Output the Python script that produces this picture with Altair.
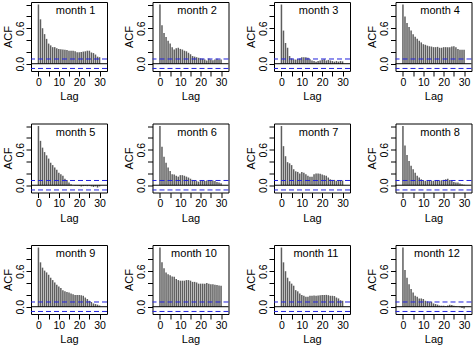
import altair as alt
import pandas as pd

lags = list(range(31))

m1 = [1.0, 0.75, 0.60, 0.50, 0.42, 0.34, 0.31, 0.28, 0.28, 0.26, 0.25, 0.245, 0.24, 0.235, 0.23, 0.22,
      0.22, 0.22, 0.21, 0.195, 0.195, 0.20, 0.205, 0.21, 0.22, 0.22, 0.19, 0.18, 0.155, 0.12, 0.11]
m2 = [1.0, 0.65, 0.52, 0.45, 0.39, 0.34, 0.28, 0.24, 0.26, 0.27, 0.25, 0.24, 0.22, 0.21, 0.185, 0.16,
      0.13, 0.12, 0.11, 0.10, 0.09, 0.085, 0.07, 0.055, 0.09, 0.07, 0.06, 0.07, 0.085, 0.07, 0.07]
m3 = [1.0, 0.56, 0.35, 0.27, 0.13, 0.09, 0.075, 0.07, 0.08, 0.09, 0.11, 0.11, 0.11, 0.10, 0.075, 0.055,
      0.045, 0.035, 0.045, 0.055, 0.065, 0.075, 0.055, 0.065, 0.055, 0.045, 0.035, 0.045, 0.035, 0.045, 0.04]
m4 = [1.0, 0.80, 0.69, 0.62, 0.56, 0.50, 0.455, 0.42, 0.39, 0.36, 0.33, 0.32, 0.305, 0.295, 0.29, 0.28,
      0.28, 0.285, 0.27, 0.27, 0.28, 0.28, 0.28, 0.28, 0.29, 0.295, 0.28, 0.25, 0.235, 0.235, 0.235]
m5 = [1.0, 0.75, 0.635, 0.56, 0.505, 0.45, 0.38, 0.34, 0.30, 0.26, 0.21, 0.185, 0.16, 0.11, 0.09, 0.045,
      0.017, 0.0, -0.01, -0.01, -0.015, -0.02, -0.015, -0.01, -0.015, -0.01, -0.02, -0.03, -0.02, -0.04, -0.02]
m6 = [1.0, 0.65, 0.48, 0.38, 0.30, 0.24, 0.185, 0.18, 0.16, 0.145, 0.17, 0.17, 0.16, 0.145, 0.13, 0.11,
      0.09, 0.075, 0.07, 0.06, 0.075, 0.075, 0.07, 0.08, 0.085, 0.075, 0.08, 0.07, 0.055, 0.045, 0.035]
m7 = [1.0, 0.66, 0.49, 0.39, 0.37, 0.34, 0.27, 0.235, 0.225, 0.20, 0.225, 0.21, 0.185, 0.16, 0.145, 0.145,
      0.185, 0.20, 0.20, 0.195, 0.18, 0.17, 0.16, 0.13, 0.10, 0.09, 0.09, 0.075, 0.07, 0.075, 0.08]
m8 = [1.0, 0.67, 0.51, 0.41, 0.33, 0.27, 0.21, 0.16, 0.13, 0.10, 0.085, 0.075, 0.07, 0.08, 0.075, 0.075,
      0.08, 0.085, 0.08, 0.085, 0.09, 0.10, 0.11, 0.09, 0.075, 0.055, 0.045, 0.045, 0.03, 0.017, 0.01]
m9 = [1.0, 0.75, 0.66, 0.61, 0.58, 0.54, 0.49, 0.45, 0.41, 0.37, 0.34, 0.315, 0.28, 0.26, 0.25, 0.24,
      0.225, 0.21, 0.20, 0.20, 0.20, 0.195, 0.185, 0.155, 0.13, 0.10, 0.08, 0.055, 0.045, 0.035, 0.02]
m10 = [1.0, 0.75, 0.65, 0.58, 0.55, 0.53, 0.51, 0.505, 0.47, 0.45, 0.44, 0.44, 0.44, 0.45, 0.45, 0.44,
       0.42, 0.42, 0.41, 0.39, 0.39, 0.39, 0.39, 0.40, 0.39, 0.38, 0.38, 0.37, 0.365, 0.36, 0.355]
m11 = [1.0, 0.75, 0.60, 0.49, 0.43, 0.39, 0.355, 0.28, 0.26, 0.225, 0.20, 0.185, 0.17, 0.17, 0.185, 0.185,
       0.19, 0.185, 0.19, 0.195, 0.20, 0.20, 0.20, 0.195, 0.185, 0.185, 0.18, 0.155, 0.14, 0.11, 0.10]
m12 = [1.0, 0.62, 0.49, 0.38, 0.30, 0.24, 0.185, 0.17, 0.14, 0.14, 0.13, 0.10, 0.09, 0.075, 0.085, 0.055,
       0.045, 0.035, 0.02, 0.017, 0.017, 0.01, 0.02, 0.035, 0.03, 0.017, 0.01, 0.0, -0.01, -0.02, -0.03]

series = [m1, m2, m3, m4, m5, m6, m7, m8, m9, m10, m11, m12]
titles = [f"month {i}" for i in range(1, 13)]
ci = 0.08

x_ticks = [0, 5, 10, 15, 20, 25, 30]
y_ticks = [0.0, 0.2, 0.4, 0.6, 0.8, 1.0]

W, H = 76, 69
FONT = "Liberation Sans"

xscale = alt.Scale(domain=[-1.2, 31.2], nice=False, zero=False)
yscale = alt.Scale(domain=[-0.123, 1.043], nice=False, zero=False)

xaxis = alt.Axis(title="Lag", values=x_ticks,
                 labelExpr="(datum.value == 0 || datum.value == 10 || datum.value == 20 || datum.value == 30) ? datum.label : ''",
                 tickSize=5, labelPadding=1, titlePadding=3,
                 labelOverlap=False, labelFlush=False)
yaxis = alt.Axis(title="ACF", values=y_ticks,
                 labelExpr="(datum.value < 0.05 || (datum.value > 0.55 && datum.value < 0.65)) ? format(datum.value, '.1f') : ''",
                 tickSize=5, labelPadding=1, titlePadding=2,
                 labelAngle=270, labelAlign="center", labelBaseline="bottom",
                 labelOverlap=False, labelFlush=False)


def panel(vals, title):
    df = pd.DataFrame({"lag": lags, "acf": vals})
    bars = alt.Chart(df).mark_bar(size=1.5, color="#5e5e5e").encode(
        x=alt.X("lag:Q", scale=xscale, axis=xaxis),
        y=alt.Y("acf:Q", scale=yscale, axis=yaxis),
        y2=alt.datum(0),
    )
    zero = alt.Chart(pd.DataFrame({"acf": [0.0]})).mark_rule(color="black", strokeWidth=1).encode(
        y=alt.Y("acf:Q", scale=yscale, axis=yaxis))
    cis = alt.Chart(pd.DataFrame({"acf": [ci, -ci]})).mark_rule(
        color="#2222dd", strokeWidth=1, strokeDash=[5, 3]).encode(
        y=alt.Y("acf:Q", scale=yscale, axis=yaxis))
    txt = alt.Chart(pd.DataFrame({"t": [title], "lag": [28.0], "acf": [0.89]})).mark_text(
        align="right", baseline="middle", fontSize=11, font=FONT, color="black").encode(
        x=alt.X("lag:Q", scale=xscale, axis=xaxis),
        y=alt.Y("acf:Q", scale=yscale, axis=yaxis),
        text="t:N")
    return alt.layer(bars, zero, cis, txt).properties(width=W, height=H)


charts = [panel(v, t) for v, t in zip(series, titles)]

chart = alt.concat(*charts, columns=4, spacing={"row": 52.5, "column": 45.5}, bounds="flush").properties(
    padding={"left": 1, "top": 1, "right": 0, "bottom": 0}
).configure(background="white").configure_view(stroke="black", strokeWidth=1).configure_axis(
    domain=False, grid=False, labelFontSize=10.5, titleFontSize=11,
    labelFont=FONT, titleFont=FONT, tickColor="black", labelColor="black",
    titleColor="black", titleFontWeight="normal", labelOverlap=False
)

chart.save("out.html", embed_options={"renderer": "svg", "actions": False})
